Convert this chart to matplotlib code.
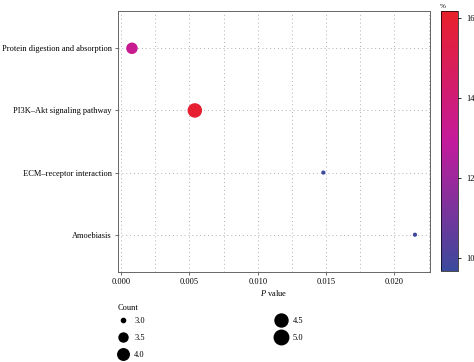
import matplotlib
matplotlib.use("Agg")
import matplotlib.pyplot as plt
import numpy as np
from matplotlib.colors import LinearSegmentedColormap, Normalize
from matplotlib.lines import Line2D

plt.rcParams['font.family'] = ['Liberation Serif', 'DejaVu Serif']
plt.rcParams['mathtext.fontset'] = 'custom'
plt.rcParams['mathtext.rm'] = 'Liberation Serif'
plt.rcParams['mathtext.it'] = 'Liberation Serif:italic'

pathways = ["Amoebiasis", "ECM\u2013receptor interaction", "PI3K\u2013Akt signaling pathway", "Protein digestion and absorption"]
p_values = [0.0215, 0.0148, 0.0054, 0.0008]
counts = [3, 3, 5, 4]
percents = [9.8, 9.8, 16.0, 13.3]
legend_counts = [3.0, 3.5, 4.0, 4.5, 5.0]
x_ticks = [0.000, 0.005, 0.010, 0.015, 0.020]
cbar_ticks = [10, 12, 14, 16]

cmap = LinearSegmentedColormap.from_list("bmr", ["#3a4a9c", "#c41a9c", "#e8202a"])
norm = Normalize(vmin=9.68, vmax=16.18)

# diameter (px) scale for counts
_size_c = [3.0, 3.5, 4.0, 4.5, 5.0]
_size_d = [4.2, 9.0, 11.5, 13.0, 14.5]

def diam_pt(c):
    return np.interp(c, _size_c, _size_d) * 72 / 100

fig = plt.figure(figsize=(4.74, 3.62), dpi=100)
ax = fig.add_axes([118/474, 1 - 272/362, 312/474, 261/362])
cax = fig.add_axes([441/474, 1 - 271/362, 17/474, 260/362])

ypos = np.arange(len(pathways))
ax.set_axisbelow(True)
sc = ax.scatter(p_values, ypos, s=[diam_pt(c) ** 2 for c in counts], c=percents, cmap=cmap, norm=norm,
                edgecolors='none', zorder=3)

ax.set_xlim(-0.00022, 0.0226)
ax.set_ylim(-0.6, len(pathways) - 0.4)
ax.set_yticks(ypos)
ax.set_yticklabels(pathways, fontsize=6)
ax.set_xticks(x_ticks)
ax.set_xticklabels([f"{v:.3f}" for v in x_ticks], fontsize=6)
ax.set_xticks(np.arange(0.0025, 0.0226, 0.005), minor=True)
ax.tick_params(axis='x', which='minor', length=0)
ax.tick_params(axis='both', which='major', length=2.5, width=0.6, color='#555555', pad=2)
ax.grid(True, which='both', axis='x', linestyle=(0, (1, 3)), color='#b0b0b0', linewidth=0.7)
ax.grid(True, which='major', axis='y', linestyle=(0, (1, 3)), color='#b0b0b0', linewidth=0.7)
for sp in ax.spines.values():
    sp.set_color('#666666')
    sp.set_linewidth(0.7)
ax.set_xlabel(r"$\mathit{P}$ value", fontsize=6, labelpad=1.5)

cb = fig.colorbar(sc, cax=cax)
cb.set_ticks(cbar_ticks)
cb.ax.tick_params(labelsize=6, length=2.5, width=0.6)
cb.outline.set_linewidth(0.5)
fig.text(443/474, 1 - 6/362, "%", fontsize=5, ha='center', va='center')

handles = [Line2D([], [], linestyle='none', marker='o', color='black', markersize=diam_pt(c))
           for c in legend_counts]
fig.text(118/474, 1 - 308/362, "Count", fontsize=6, ha='left', va='center')
fig.legend(handles, [f"{c:.1f}" for c in legend_counts], ncol=2,
           loc='upper left', bbox_to_anchor=(112/474, 1 - 311/362), frameon=False,
           fontsize=6, columnspacing=15.8, handletextpad=0.75,
           labelspacing=1.1, handlelength=1.2, borderpad=0.2)

fig.savefig("out.png", dpi=100)
